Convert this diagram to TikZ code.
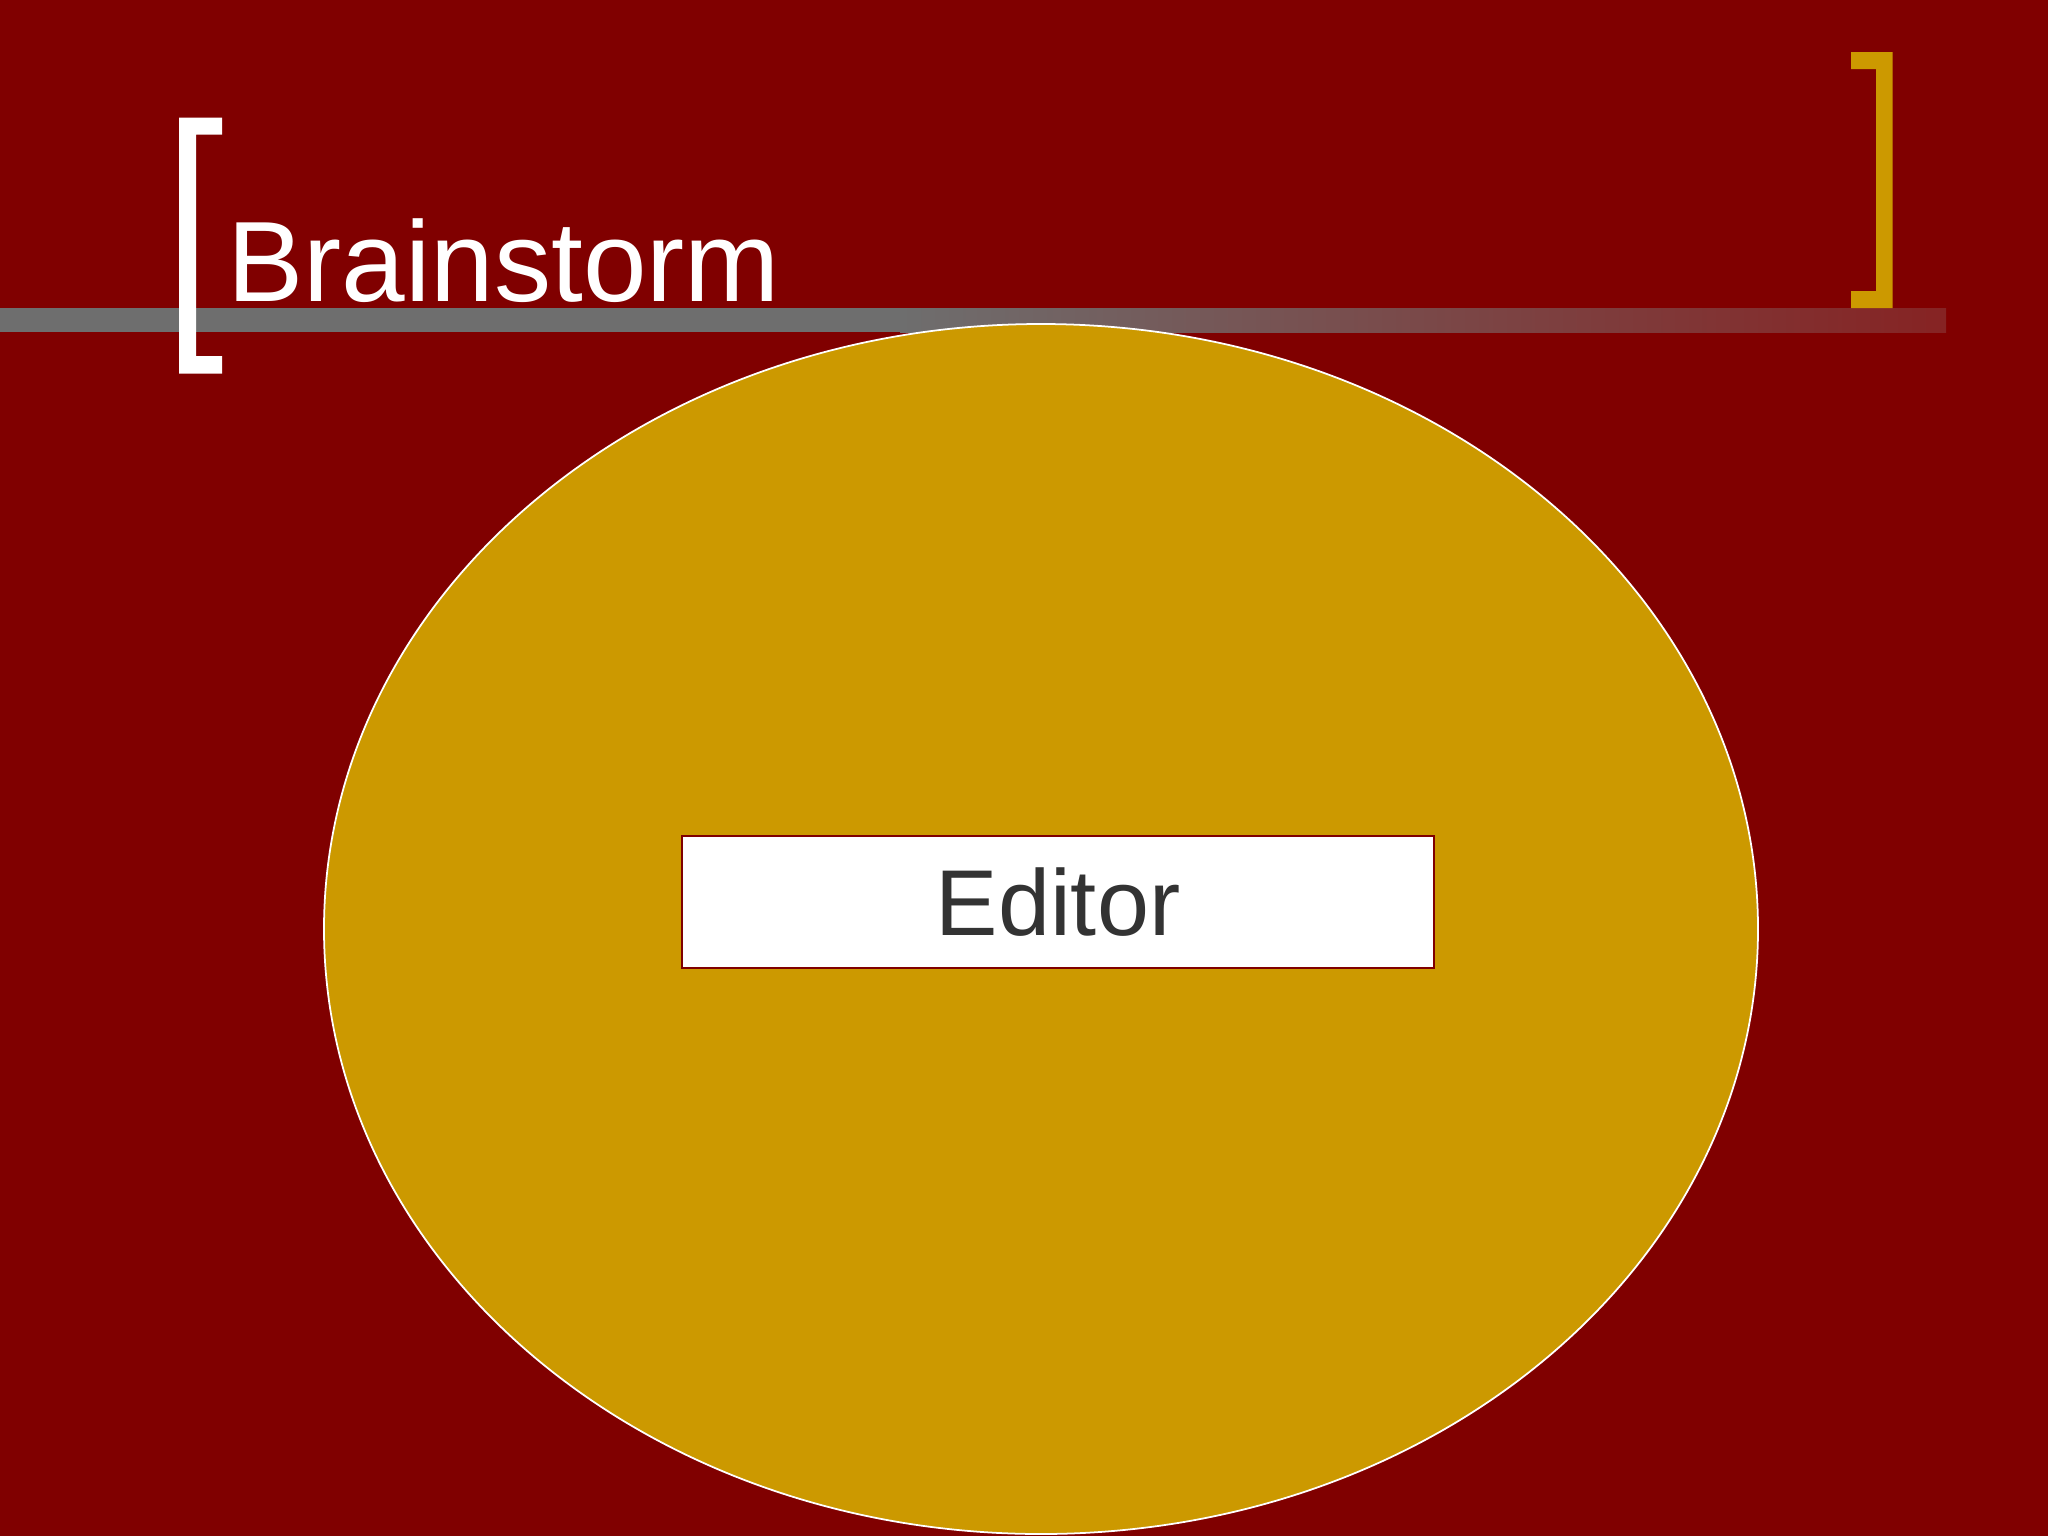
\documentclass[tikz,border=0pt]{standalone}
\usepackage{fontspec}
\setmainfont{Liberation Sans}
\definecolor{slidered}{HTML}{800000}
\definecolor{slidegold}{HTML}{CC9900}
\definecolor{slidegray}{HTML}{6E6E6E}
\definecolor{barend}{HTML}{862323}
\definecolor{textgray}{HTML}{333333}
\begin{document}
\begin{tikzpicture}[x=0.01cm, y=-0.01cm,
    titletext/.style={anchor=base west, inner sep=0pt, text=white, font=\fontsize{32.5}{39}\selectfont},
    editorbox/.style={draw=slidered, fill=white, line width=0.6pt, inner sep=0pt,
      minimum width=7.52cm, minimum height=1.32cm, text=textgray, font=\fontsize{26.6}{31}\selectfont}]
    % slide background
    \fill[slidered] (0,0) rectangle (2048,1536);
    \useasboundingbox (0,0) rectangle (2048,1536);
    % rule under the title
    \fill[slidegray] (0,308) rectangle (901,332);
    \shade[left color=slidegray, right color=barend] (900,308) rectangle (1946,332);
    % brackets
    \fill[white] (179,117.5) -- (222,117.5) -- (222,134.5) -- (196,134.5) -- (196,356) -- (222,356) -- (222,373.5) -- (179,373.5) -- cycle;
    \fill[slidegold] (1892.6,52) -- (1851,52) -- (1851,69) -- (1876,69) -- (1876,291) -- (1851,291) -- (1851,308) -- (1892.6,308) -- cycle;
    \node[titletext] (title) at (227,301.7) {Brainstorm};
    % big circle with the editor box
    \draw[fill=slidegold, draw=white, line width=0.5pt] (1041,929) ellipse [x radius=717, y radius=605];
    \node[editorbox] (editor) at (1058,902) {Editor};
\end{tikzpicture}
\end{document}
